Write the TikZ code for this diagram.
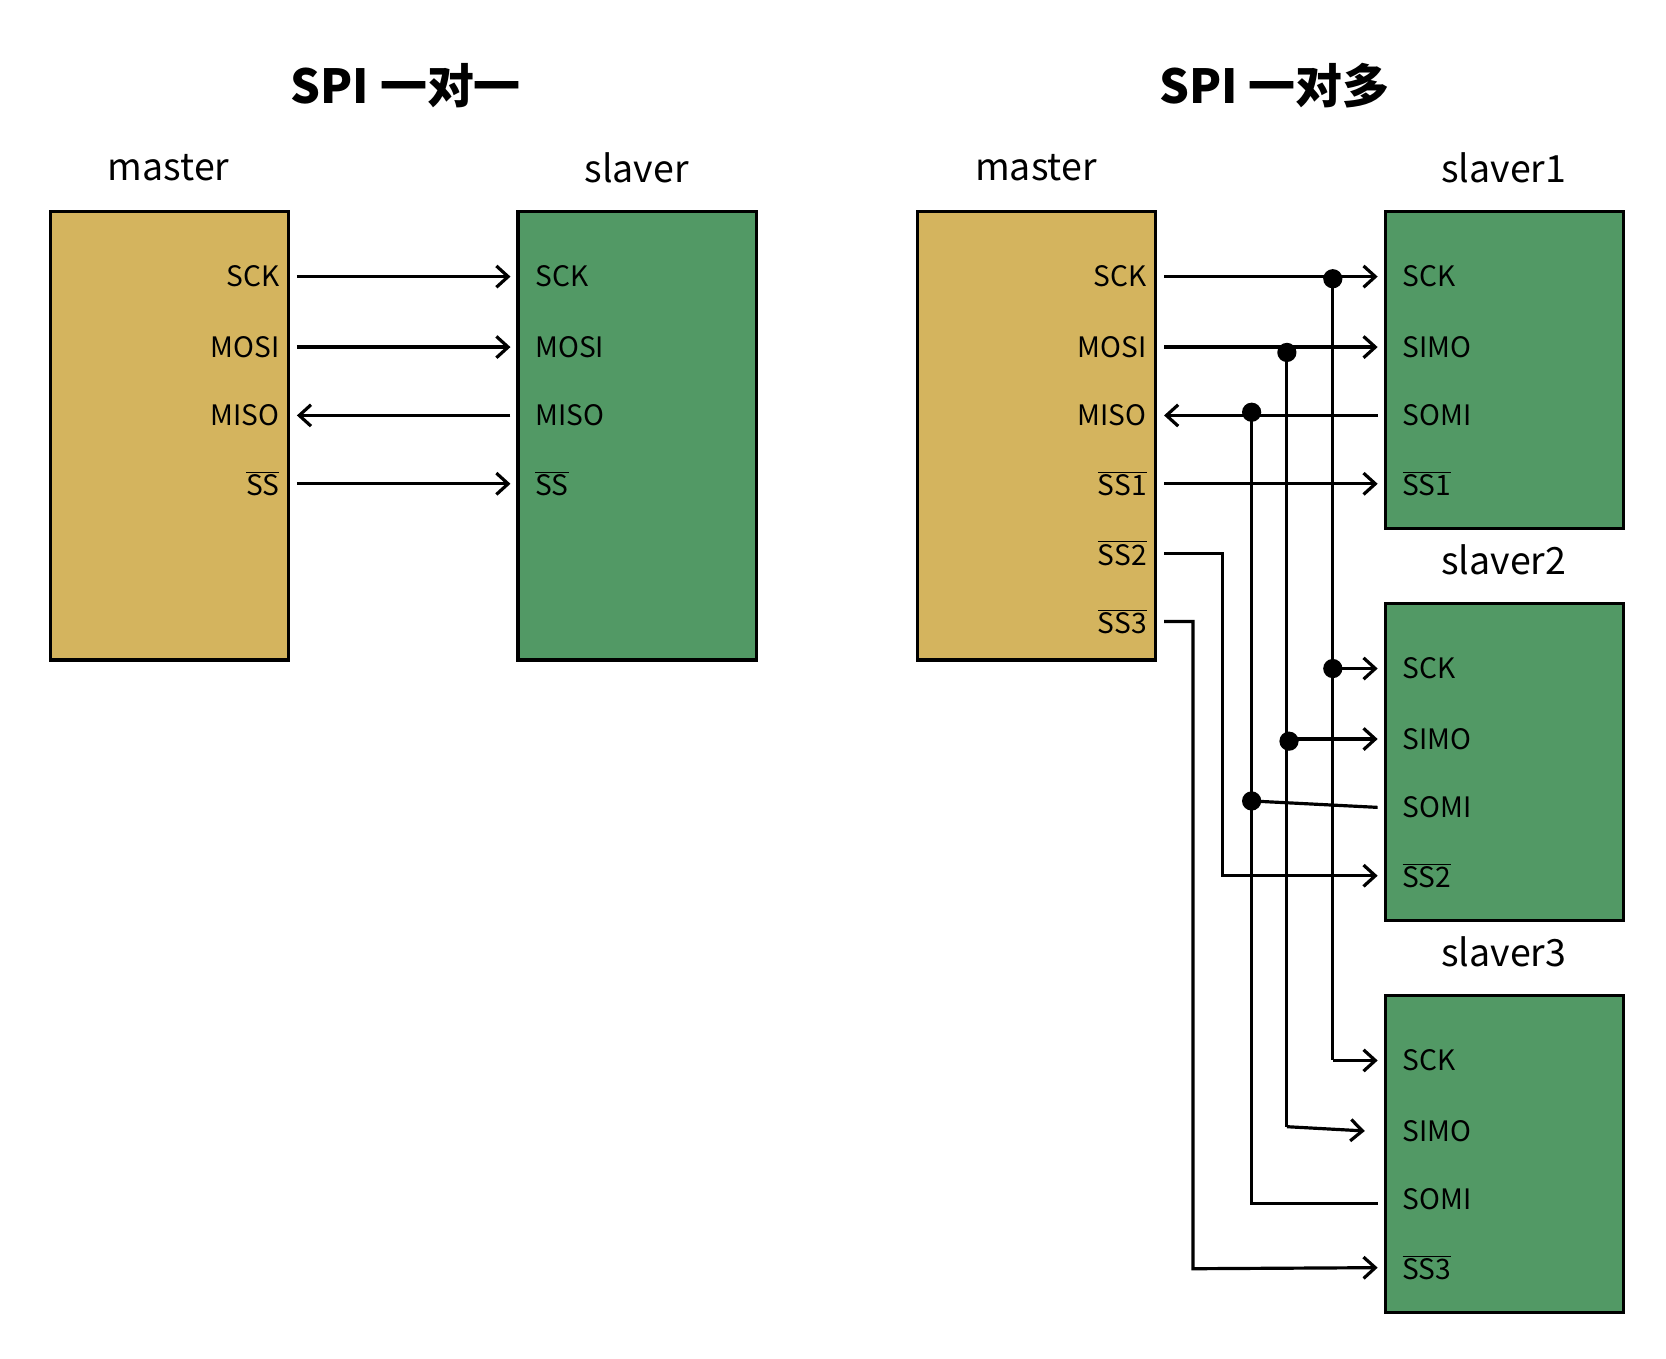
\documentclass[tikz,border=0pt]{standalone}
\usepackage{fontspec}
\setmainfont{Noto Sans CJK SC}
\usetikzlibrary{arrows.meta}
\definecolor{mcol}{HTML}{D4B45E}
\definecolor{scol}{HTML}{529965}
\newcommand{\ovl}[1]{$\overline{\mbox{#1}}$}
\begin{document}
\begin{tikzpicture}[x=0.02cm,y=-0.02cm,
  box/.style={draw,line width=1.7pt},
  pin/.style={font=\fontsize{15}{18}\selectfont,inner sep=0pt},
  lbl/.style={font=\fontsize{20}{24}\selectfont},
  ttl/.style={font=\fontsize{25}{30}\selectfont\bfseries},
  wire/.style={line width=1.7pt},
  arr/.style={wire,-{Straight Barb[length=0.22cm,width=0.4cm,line width=1.7pt]}},
  dot/.style={circle,fill,inner sep=0pt,minimum size=0.36cm}]
\useasboundingbox (0,0) rectangle (1560,1272);
% titles
\node[ttl] (t1) at (380,80) {SPI 一对一};
\node[ttl] (t2) at (1193,80) {SPI 一对多};
% one to one
\draw[box,fill=mcol] (47,198) rectangle (270,618);
\draw[box,fill=scol] (485,198) rectangle (708,618);
\node[lbl] (lm) at (158,157) {master};
\node[lbl] (ls) at (596,157) {slaver};
\foreach \n/\t/\y in {a/SCK/259,b/MOSI/325,c/MISO/389,d/\ovl{SS}/453}{
  \node[pin,anchor=east] (m\n) at (262,\y) {\t};
  \node[pin,anchor=west] (s\n) at (501,\y) {\t};
  \coordinate (mo\n) at (278,\y);
  \coordinate (si\n) at (478,\y);
}
\draw[arr] (moa) -- (sia);
\draw[arr] (mob) -- (sib);
\draw[arr] (sic) -- (moc);
\draw[arr] (mod) -- (sid);
% one to many
\draw[box,fill=mcol] (859,198) rectangle (1082,618);
\node[lbl] (lm2) at (970,157) {master};
\foreach \n/\t/\y in {a/SCK/259,b/MOSI/325,c/MISO/389,d/\ovl{SS1}/453,e/\ovl{SS2}/518,f/\ovl{SS3}/582}{
  \node[pin,anchor=east] (M\n) at (1074,\y) {\t};
  \coordinate (MO\n) at (1090,\y);
}
\foreach \k/\y in {1/198,2/565,3/932}{
  \draw[box,fill=scol] (1297,\y) rectangle (1520,\y+297);
  \node[lbl] (L\k) at (1408,\y-41) {slaver\k};
  \node[pin,anchor=west] (S\k a) at (1313,\y+61) {SCK};
  \node[pin,anchor=west] (S\k b) at (1313,\y+127) {SIMO};
  \node[pin,anchor=west] (S\k c) at (1313,\y+191) {SOMI};
  \node[pin,anchor=west] (S\k d) at (1313,\y+255) {\ovl{SS\k}};
  \coordinate (I\k a) at (1290,\y+61);
  \coordinate (I\k b) at (1290,\y+127);
  \coordinate (I\k c) at (1290,\y+191);
  \coordinate (I\k d) at (1290,\y+255);
}
\coordinate (I3b) at (1278,1059);
% SCK bus
\draw[arr] (MOa) -- (I1a);
\draw[wire] (1248,259) -- (1248,993);
\draw[arr] (1248,626) -- (I2a);
\draw[arr] (1248,993) -- (I3a);
\node[dot] (da1) at (1248,261) {};
\node[dot] (da2) at (1248,626) {};
% MOSI bus
\draw[arr] (MOb) -- (I1b);
\draw[wire] (1205,330) -- (1205,1055);
\draw[arr] (1205,692) -- (I2b);
\draw[arr] (1205,1055) -- (I3b);
\node[dot] (db1) at (1205,330) {};
\node[dot] (db2) at (1207,694) {};
% MISO bus
\draw[arr] (I1c) -- (MOc);
\draw[wire] (1172,386) -- (1172,1127) -- (1290,1127);
\draw[wire] (1172,750) -- (I2c);
\node[dot] (dc1) at (1172,386) {};
\node[dot] (dc2) at (1172,750) {};
% slave selects
\draw[arr] (MOd) -- (I1d);
\draw[arr] (MOe) -| (1145,820) -- (I2d);
\draw[arr] (MOf) -| (1117,1188) -- (I3d);
\end{tikzpicture}
\end{document}
